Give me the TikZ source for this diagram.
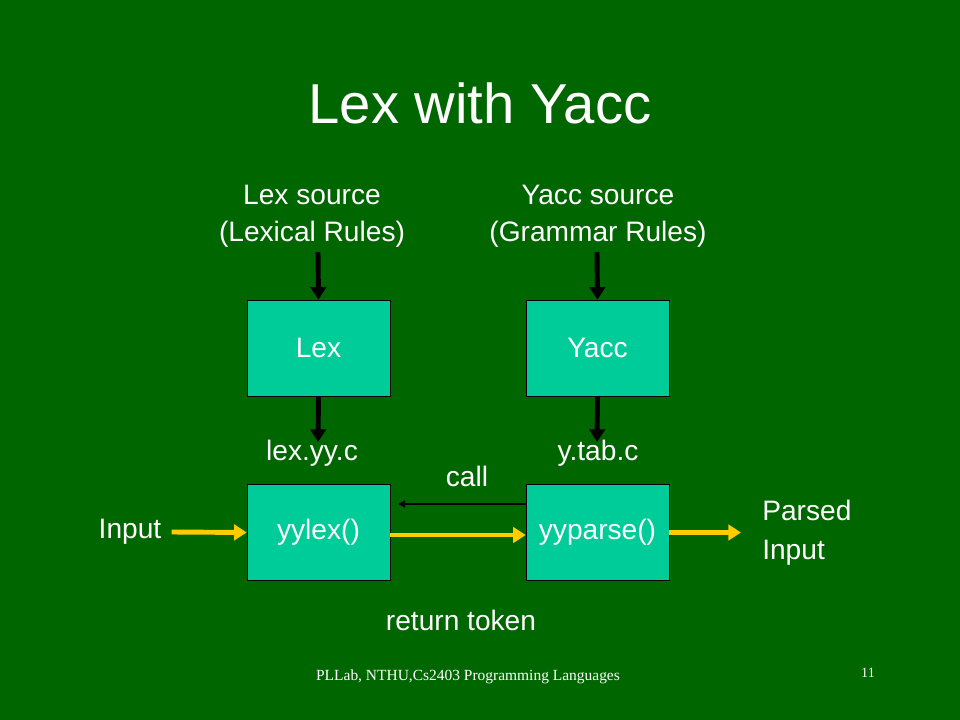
\documentclass[tikz,border=0pt]{standalone}
\usepackage{fontspec}
\setmainfont{Liberation Sans}
\newfontfamily\serifft{Liberation Serif}
\usetikzlibrary{arrows.meta}
\definecolor{slidegreen}{HTML}{006600}
\definecolor{boxgreen}{HTML}{00CC99}
\definecolor{flowyellow}{HTML}{FFCC00}
\tikzset{
  unitbox/.style={draw=black, fill=boxgreen, minimum width=3.575cm, minimum height=2.4cm, text=white, font=\fontsize{20}{24}\selectfont},
  lbl/.style={text=white, font=\fontsize{20}{24}\selectfont, inner sep=0pt},
  blackflow/.style={line width=3.5pt, -{Triangle[length=9pt,width=11pt]}},
  yellowflow/.style={draw=flowyellow, line width=3.5pt, -{Triangle[length=9pt,width=11pt]}},
}
\begin{document}
\begin{tikzpicture}[x=0.025cm, y=-0.025cm]
  \fill[slidegreen] (0,0) rectangle (960,720);
  \useasboundingbox (0,0) rectangle (960,720);

  % title
  \node[text=white, font=\fontsize{40}{48}\selectfont] (title) at (480,103) {Lex with Yacc};

  % sources
  \node[lbl, align=center] (lexsrc) at (312,216) {Lex source\\[2pt](Lexical Rules)};
  \node[lbl, align=center] (yaccsrc) at (598,216) {Yacc source\\[2pt](Grammar Rules)};

  % boxes
  \node[unitbox] (lex) at (318.5,348) {Lex};
  \node[unitbox] (yacc) at (597.5,348) {Yacc};
  \node[unitbox] (yylex) at (318.5,532.5) {yylex()};
  \node[unitbox] (yyparse) at (597.5,532.5) {yyparse()};

  % generated files
  \node[lbl] (lexc) at (312,453) {lex.yy.c};
  \node[lbl] (yaccc) at (598,453) {y.tab.c};

  \coordinate (lexsrcend) at (318,252);
  \coordinate (yaccsrcend) at (597,252);
  \coordinate (lexout) at (318,442);
  \coordinate (yaccout) at (597,442);
  \draw[blackflow] (lexsrcend) -- (lex.north);
  \draw[blackflow] (yaccsrcend) -- (yacc.north);
  \draw[blackflow] (lex.south) -- (lexout);
  \draw[blackflow] (yacc.south) -- (yaccout);

  % call / return
  \node[lbl] (call) at (467,476) {call};
  \draw[line width=0.8pt, -{Triangle[length=5pt,width=5pt]}] (yyparse.west |- 0,504) -- (398,504);
  \draw[yellowflow] (yylex.east |- 0,535) -- (yyparse.west |- 0,535);
  \node[lbl] (ret) at (461,620) {return token};

  % input / output
  \node[lbl] (input) at (130,532) {Input};
  \draw[yellowflow] (input.east) ++(10,0) -- (yylex.west);
  \node[lbl, align=left, anchor=west] (parsed) at (762,533) {Parsed\\[4pt]Input};
  \draw[yellowflow] (yyparse.east) -- (741,532.5);

  % footer
  \node[text=white, font=\serifft\fontsize{11}{13}\selectfont] (footer) at (468,677) {PLLab, NTHU,Cs2403 Programming Languages};
  \node[text=white, font=\serifft\fontsize{10}{12}\selectfont] (pagenum) at (868,673) {11};
\end{tikzpicture}
\end{document}
